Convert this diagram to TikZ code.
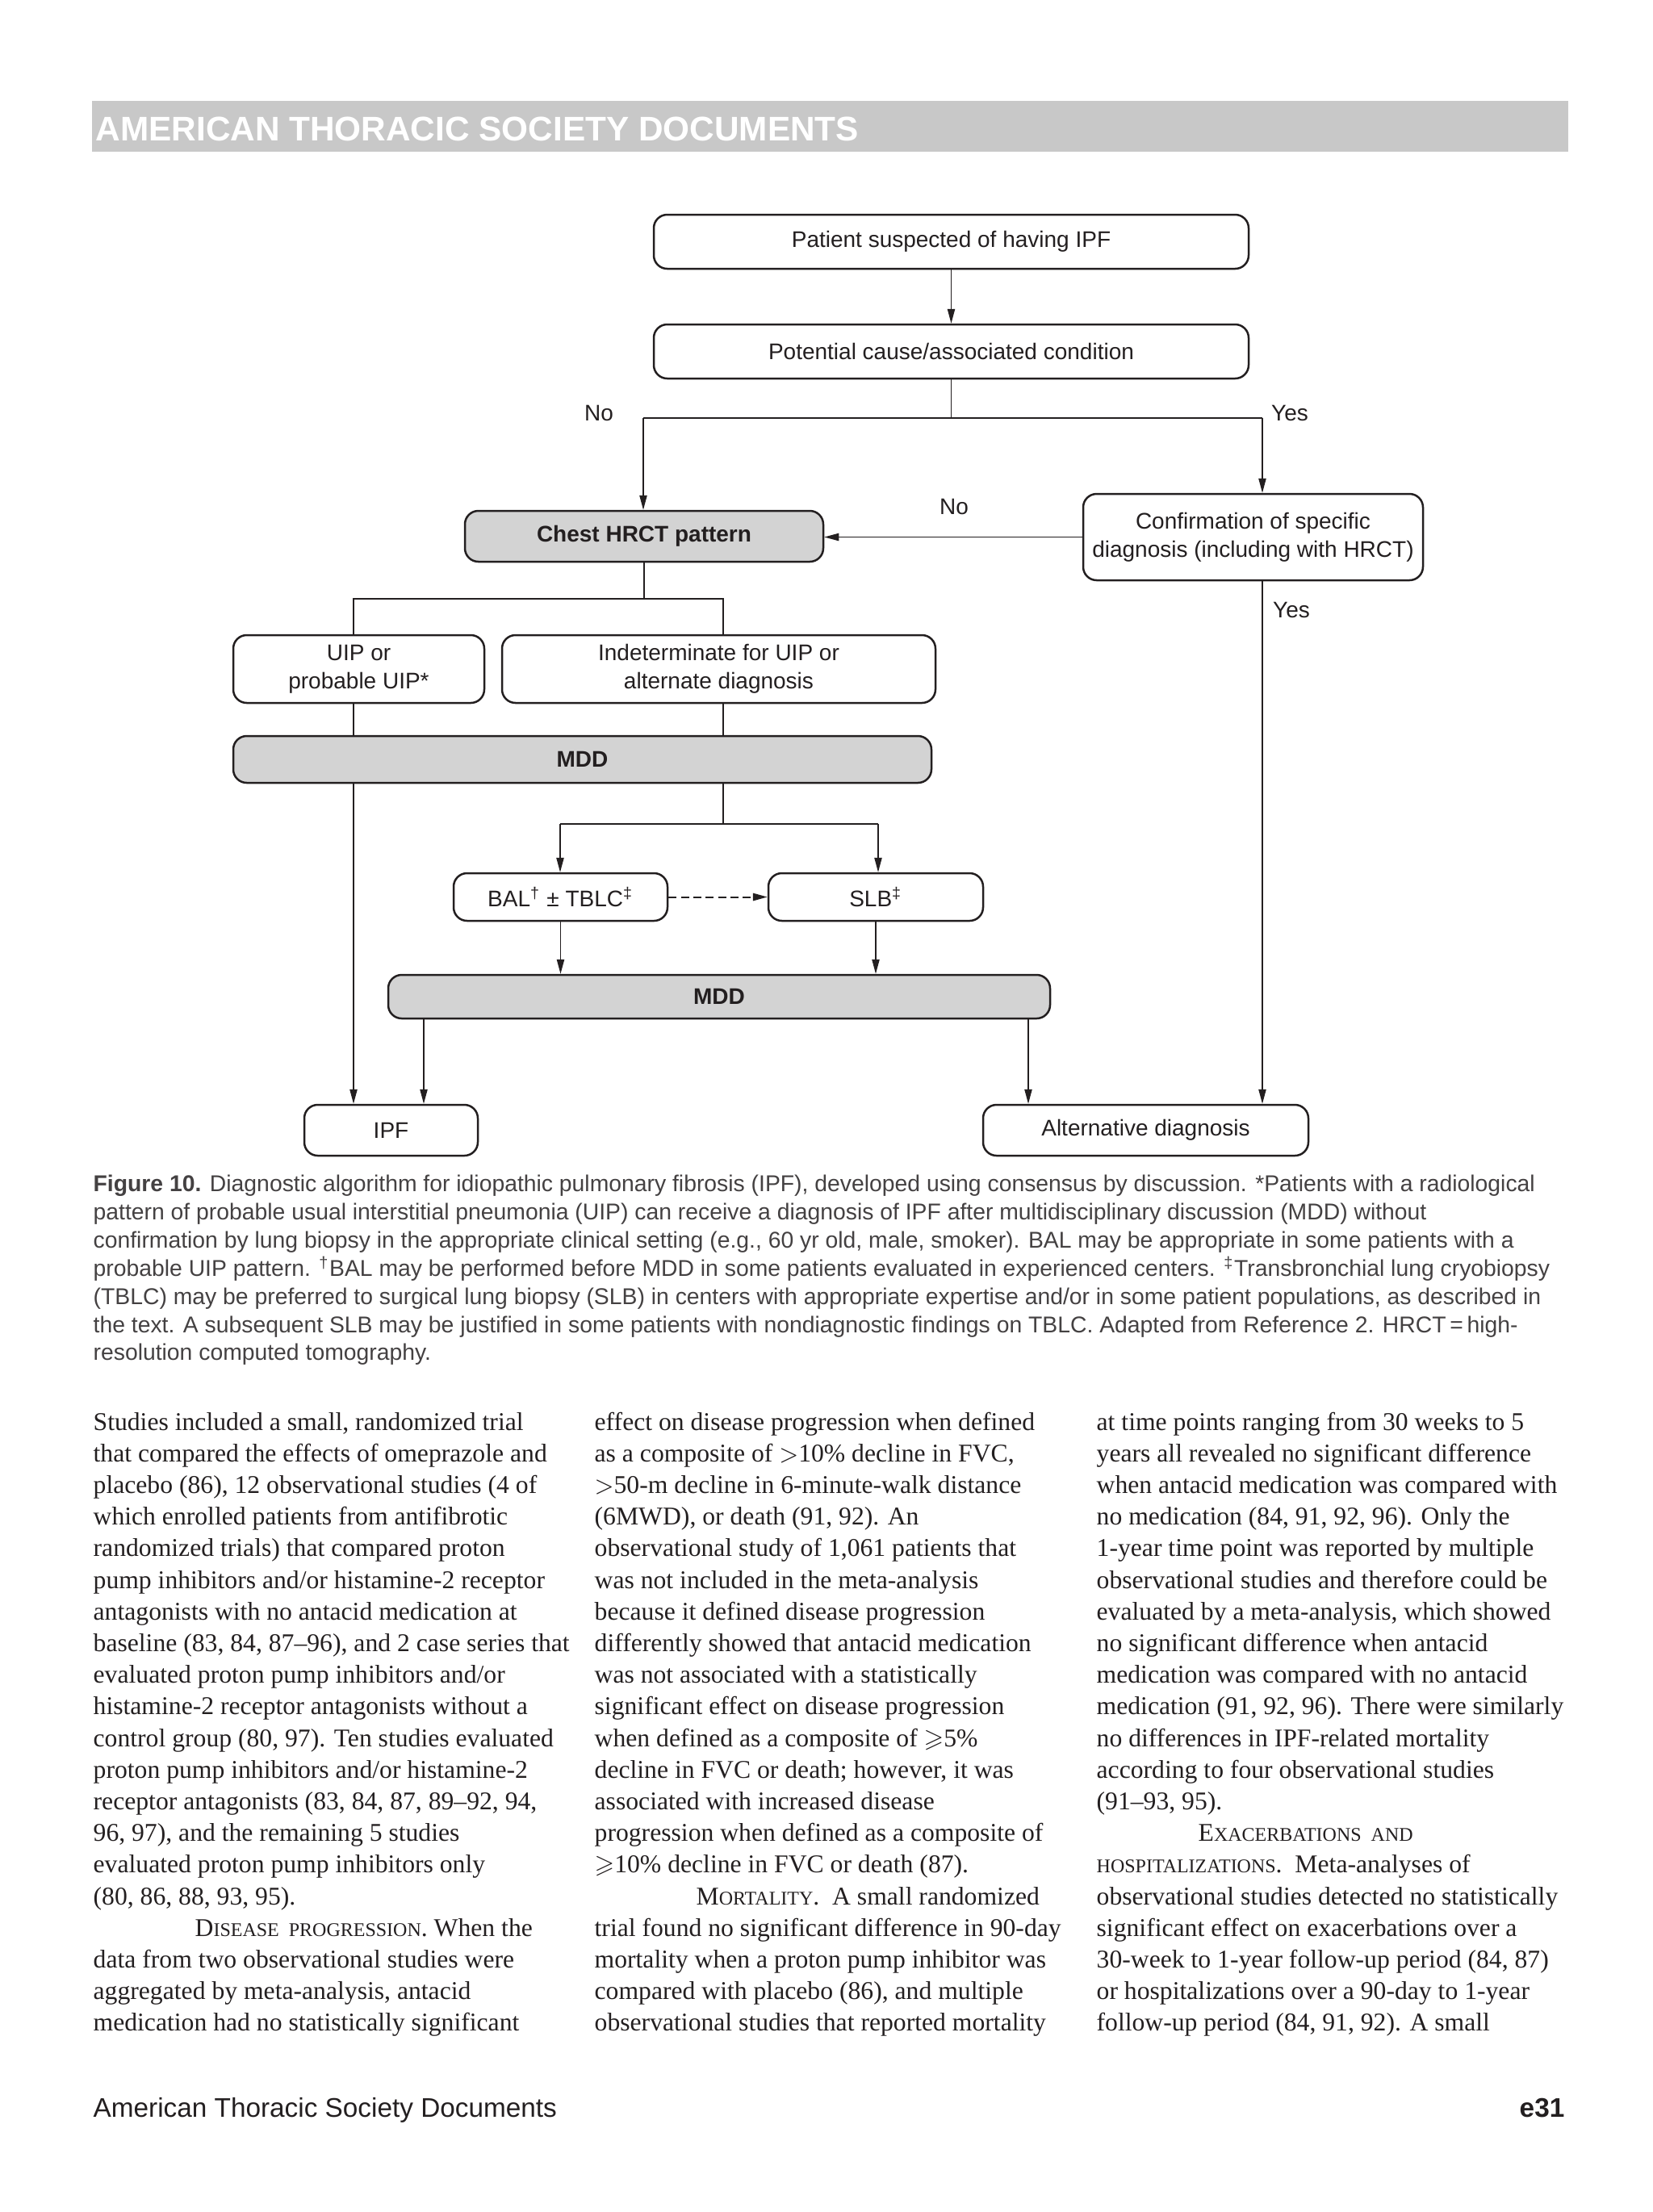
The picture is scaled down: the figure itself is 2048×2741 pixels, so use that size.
\documentclass[tikz,border=0pt]{standalone}
\usepackage{amssymb}
\usepackage{fontspec}
\setmainfont{Liberation Serif}
\setsansfont{Liberation Sans}
\usetikzlibrary{arrows.meta}
\definecolor{boxgrey}{HTML}{D3D3D3}
\definecolor{bargrey}{HTML}{C8C8C8}
\definecolor{ink}{HTML}{231F20}
\newcommand\smallcap[1]{{\fontsize{7.2}{11.7}\selectfont #1}}

\begin{document}
\begin{tikzpicture}[x=0.3pt,y=-0.3pt,
  wh/.style 2 args={minimum width=#1*0.3pt,minimum height=#2*0.3pt},
  flowbox/.style={draw=ink,line width=0.75pt,rounded corners=5pt,fill=white,
    align=center,inner sep=0pt,text=ink,font=\sffamily\fontsize{8.4}{10.5}\selectfont},
  greybox/.style={flowbox,fill=boxgrey,font=\sffamily\bfseries\fontsize{8.4}{10.5}\selectfont},
  conn/.style={draw=ink,line width=0.4pt},
  arr/.style={conn,-{Triangle[length=5.4pt,width=2.8pt]}},
  yesno/.style={anchor=base,inner sep=0pt,text=ink,font=\sffamily\fontsize{8.4}{10}\selectfont},
  capt/.style={anchor=base west,inner sep=0pt,text=ink!85,font=\sffamily\fontsize{8.5}{10}\selectfont},
  body/.style={anchor=base west,inner sep=0pt,text=ink,font=\fontsize{9.5}{11.7}\selectfont}
]
\useasboundingbox (0,0) rectangle (2048,2741);

% running head
\fill[bargrey] (114,125) rectangle (1943,188);
\node[anchor=base west,inner sep=0pt,text=white,font=\sffamily\bfseries\fontsize{12.7}{14}\selectfont]
  (head) at (118,174) {AMERICAN THORACIC SOCIETY DOCUMENTS};

% flowchart boxes
\node[flowbox,wh={737}{67}] (start) at (1178.5,299.5) {Patient suspected of having IPF};
\node[flowbox,wh={737}{67}] (cause) at (1178.5,435.5) {Potential cause/associated condition};
\node[greybox,wh={444}{63}] (chest) at (798,664.5) {Chest HRCT pattern};
\node[flowbox,wh={421}{107}] (confirm) at (1552.5,665.5) {Confirmation of specific\\diagnosis (including with HRCT)};
\node[flowbox,wh={311}{84}] (uip) at (444.5,829) {UIP or\\probable UIP*};
\node[flowbox,wh={537}{84}] (indet) at (890.5,829) {Indeterminate for UIP or\\alternate diagnosis};
\node[greybox,wh={865}{58}] (mdda) at (721.5,941) {MDD};
\node[flowbox,wh={265}{59}] (bal) at (694.5,1111.5) {BAL\textsuperscript{†} ± TBLC\textsuperscript{‡}};
\node[flowbox,wh={266}{59}] (slb) at (1085,1111.5) {SLB\textsuperscript{‡}};
\node[greybox,wh={820}{54}] (mddb) at (891,1235) {MDD};
\node[flowbox,wh={215}{63}] (ipf) at (484.5,1400.5) {IPF};
\node[flowbox,wh={403}{63}] (alt) at (1419.5,1400.5) {Alternative diagnosis};

% branch points
\coordinate (nol) at (797,518);
\coordinate (yesr) at (1564,518);
\coordinate (s2l) at (438,742);
\coordinate (s2r) at (896,742);
\coordinate (s3l) at (694,1021);
\coordinate (s3r) at (1088,1021);
\coordinate (m2l) at (525,1235);
\coordinate (m2r) at (1274,1235);

% connectors
\draw[arr] (start) -- (cause);
\draw[conn] (cause) -- (cause.south |- nol);
\draw[conn] (nol) -- (yesr);
\draw[arr] (nol) -- (nol |- chest.north);
\draw[arr] (yesr) -- (yesr |- confirm.north);
\draw[arr] (confirm.west) -- (confirm.west -| chest.east);
\draw[conn] (chest) -- (chest.south |- s2l);
\draw[conn] (s2l |- uip.north) -- (s2l) -- (s2r) -- (s2r |- indet.north);
\draw[conn] (s2l |- uip.south) -- (s2l |- mdda.north);
\draw[conn] (s2r |- indet.south) -- (s2r |- mdda.north);
\draw[arr] (s2l |- mdda.south) -- (s2l |- ipf.north);
\draw[conn] (s2r |- mdda.south) -- (s2r |- s3l);
\draw[conn] (s3l) -- (s3r);
\draw[arr] (s3l) -- (s3l |- bal.north);
\draw[arr] (s3r) -- (s3r |- slb.north);
\draw[arr,line width=0.6pt,dash pattern=on 3pt off 1.6pt] (bal.east) -- (slb.west);
\draw[arr] (bal) -- (bal.south |- mddb.north);
\draw[arr] (slb) -- (slb.south |- mddb.north);
\draw[arr] (m2l |- mddb.south) -- (m2l |- ipf.north);
\draw[arr] (m2r |- mddb.south) -- (m2r |- alt.north);
\draw[arr] (yesr |- confirm.south) -- (yesr |- alt.north);

% yes / no
\node[yesno] (no1) at (742,521) {No};
\node[yesno] (yes1) at (1598,521) {Yes};
\node[yesno] (no2) at (1182,637) {No};
\node[yesno] (yes2) at (1600,765) {Yes};

% caption
\foreach \capline [count=\i from 0] in {
  {\textbf{Figure 10.} Diagnostic algorithm for idiopathic pulmonary fibrosis (IPF), developed using consensus by discussion. *Patients with a radiological},
  {pattern of probable usual interstitial pneumonia (UIP) can receive a diagnosis of IPF after multidisciplinary discussion (MDD) without},
  {confirmation by lung biopsy in the appropriate clinical setting (e.g., 60 yr old, male, smoker). BAL may be appropriate in some patients with a},
  {probable UIP pattern. \textsuperscript{†}BAL may be performed before MDD in some patients evaluated in experienced centers. \textsuperscript{‡}Transbronchial lung cryobiopsy},
  {(TBLC) may be preferred to surgical lung biopsy (SLB) in centers with appropriate expertise and/or in some patient populations, as described in},
  {the text. A subsequent SLB may be justified in some patients with nondiagnostic findings on TBLC. Adapted from Reference 2. HRCT\,=\,high-},
  {resolution computed tomography.}}
  \node[capt] (cap-\i) at (115,{1476.5+\i*34.9}) {\capline};

% body, column 1
\foreach \txt [count=\i from 0] in {
  {Studies included a small, randomized trial},
  {that compared the effects of omeprazole and},
  {placebo (86), 12 observational studies (4 of},
  {which enrolled patients from antifibrotic},
  {randomized trials) that compared proton},
  {pump inhibitors and/or histamine-2 receptor},
  {antagonists with no antacid medication at},
  {baseline (83, 84, 87–96), and 2 case series that},
  {evaluated proton pump inhibitors and/or},
  {histamine-2 receptor antagonists without a},
  {control group (80, 97). Ten studies evaluated},
  {proton pump inhibitors and/or histamine-2},
  {receptor antagonists (83, 84, 87, 89–92, 94,},
  {96, 97), and the remaining 5 studies},
  {evaluated proton pump inhibitors only},
  {(80, 86, 88, 93, 95).},
  {\hspace*{37.8pt}D\smallcap{ISEASE\ \ PROGRESSION}. When the},
  {data from two observational studies were},
  {aggregated by meta-analysis, antacid},
  {medication had no statistically significant}}
  \node[body] (a-\i) at (115,{1772+\i*39.2}) {\txt};

% body, column 2
\foreach \txt [count=\i from 0] in {
  {effect on disease progression when defined},
  {as a composite of $>$10\% decline in FVC,},
  {$>$50-m decline in 6-minute-walk distance},
  {(6MWD), or death (91, 92). An},
  {observational study of 1,061 patients that},
  {was not included in the meta-analysis},
  {because it defined disease progression},
  {differently showed that antacid medication},
  {was not associated with a statistically},
  {significant effect on disease progression},
  {when defined as a composite of $\geqslant$5\%},
  {decline in FVC or death; however, it was},
  {associated with increased disease},
  {progression when defined as a composite of},
  {$\geqslant$10\% decline in FVC or death (87).},
  {\hspace*{37.8pt}M\smallcap{ORTALITY}.\ \ A small randomized},
  {trial found no significant difference in 90-day},
  {mortality when a proton pump inhibitor was},
  {compared with placebo (86), and multiple},
  {observational studies that reported mortality}}
  \node[body] (b-\i) at (736,{1772+\i*39.2}) {\txt};

% body, column 3
\foreach \txt [count=\i from 0] in {
  {at time points ranging from 30 weeks to 5},
  {years all revealed no significant difference},
  {when antacid medication was compared with},
  {no medication (84, 91, 92, 96). Only the},
  {1-year time point was reported by multiple},
  {observational studies and therefore could be},
  {evaluated by a meta-analysis, which showed},
  {no significant difference when antacid},
  {medication was compared with no antacid},
  {medication (91, 92, 96). There were similarly},
  {no differences in IPF-related mortality},
  {according to four observational studies},
  {(91–93, 95).},
  {\hspace*{37.8pt}E\smallcap{XACERBATIONS\ \ AND}},
  {\smallcap{HOSPITALIZATIONS}.\ \ Meta-analyses of},
  {observational studies detected no statistically},
  {significant effect on exacerbations over a},
  {30-week to 1-year follow-up period (84, 87)},
  {or hospitalizations over a 90-day to 1-year},
  {follow-up period (84, 91, 92). A small}}
  \node[body] (c-\i) at (1358,{1772+\i*39.2}) {\txt};

% running foot
\node[anchor=base west,inner sep=0pt,text=ink,font=\sffamily\fontsize{10}{12}\selectfont]
  (foot) at (115,2623) {American Thoracic Society Documents};
\node[anchor=base east,inner sep=0pt,text=ink,font=\sffamily\bfseries\fontsize{10}{12}\selectfont]
  (page) at (1939,2623) {e31};
\end{tikzpicture}
\end{document}
